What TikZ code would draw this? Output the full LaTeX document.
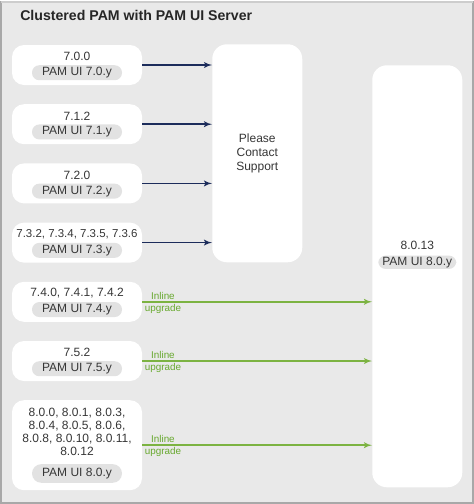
\documentclass[tikz,border=0pt]{standalone}
\usepackage{fontspec}
\setmainfont{Liberation Sans}
\usetikzlibrary{positioning, arrows}
\definecolor{panelgray}{HTML}{E9E9E9}
\definecolor{framedark}{HTML}{A8A8A8}
\definecolor{framelight}{HTML}{CDCDCD}
\definecolor{txtgray}{HTML}{363636}
\definecolor{pillgray}{HTML}{E2E2E2}
\definecolor{navyline}{HTML}{1C2C5B}
\definecolor{upggreen}{HTML}{7CB342}
\definecolor{upgtext}{HTML}{68A92F}
\tikzset{
	node distance=14pt,
	>=latex',
	vbox/.style={fill=white, rounded corners=9pt, minimum width=97.5pt, minimum height=30pt, inner sep=0pt},
	bigbox/.style={fill=white, rounded corners=11pt, minimum width=67.5pt, inner sep=0pt, text=txtgray, align=center, font=\fontsize{9}{10.3}\selectfont},
	vtxt/.style={text=txtgray, align=center, inner sep=0pt, font=\fontsize{9}{9.75}\selectfont},
	pill/.style={fill=pillgray, rounded corners=5.5pt, minimum width=67.5pt, minimum height=11.25pt, inner sep=0pt, text=txtgray, font=\fontsize{9}{10}\selectfont},
	contact/.style={->, navyline, line width=1.1pt},
	upgrade/.style={->, upggreen, line width=1.1pt},
	upgtxt/.style={text=upgtext, inner sep=1.2pt, font=\fontsize{7.4}{8}\selectfont}}

\begin{document}
\begin{tikzpicture}[x=0.75pt, y=-0.75pt]
	\useasboundingbox (0,0) rectangle (474,504);
	\draw[fill=panelgray, draw=framedark, line width=1.5pt] (1,2) rectangle (472.5,502.5);
	\draw[framelight, line width=1.5pt] (1,2) -- (472.5,2);
	\node[anchor=west, inner sep=0pt, font=\bfseries\fontsize{10.6}{12}\selectfont, text=black!85] (ttl) at (20,15) {Clustered PAM with PAM UI Server};
	
	% old versions
	\node[vbox] (b70) at (77,65) {};
	\node[vbox, below=of b70] (b71) {};
	\node[vbox, below=of b71] (b72) {};
	\node[vbox, below=of b72] (b73) {};
	\node[vbox, below=of b73] (b74) {};
	\node[vbox, below=of b74] (b75) {};
	\node[vbox, below=of b75, minimum height=67.5pt] (b80) {};
	
	\node[vtxt] at ([yshift=-9pt] b70.north) {7.0.0};
	\node[pill] at ([yshift=9.4pt] b70.south) {PAM UI 7.0.y};
	\node[vtxt] at ([yshift=-9pt] b71.north) {7.1.2};
	\node[pill] at ([yshift=9.4pt] b71.south) {PAM UI 7.1.y};
	\node[vtxt] at ([yshift=-9pt] b72.north) {7.2.0};
	\node[pill] at ([yshift=9.4pt] b72.south) {PAM UI 7.2.y};
	\node[vtxt, font=\fontsize{8.6}{9.75}\selectfont] at ([yshift=-9pt] b73.north) {7.3.2, 7.3.4, 7.3.5, 7.3.6};
	\node[pill] at ([yshift=9.4pt] b73.south) {PAM UI 7.3.y};
	\node[vtxt] at ([yshift=-9pt] b74.north) {7.4.0, 7.4.1, 7.4.2};
	\node[pill] at ([yshift=9.4pt] b74.south) {PAM UI 7.4.y};
	\node[vtxt] at ([yshift=-9pt] b75.north) {7.5.2};
	\node[pill] at ([yshift=9.4pt] b75.south) {PAM UI 7.5.y};
	\node[vtxt] at ([yshift=-23.6pt] b80.north) {8.0.0, 8.0.1, 8.0.3,\\8.0.4, 8.0.5, 8.0.6,\\8.0.8, 8.0.10, 8.0.11,\\8.0.12};
	\node[pill, minimum height=14pt, rounded corners=7pt] at ([yshift=12.75pt] b80.south) {PAM UI 8.0.y};
	
	% targets
	\node[bigbox, anchor=north west, minimum height=163.5pt] (pcs) at (212,44) {Please\\Contact\\Support};
	\node[bigbox, anchor=north west, minimum height=316.5pt] (srv) at (372,65) {};
	\node[vtxt] at ([yshift=23.25pt] srv.center) {8.0.13};
	\node[pill, minimum width=58.5pt, minimum height=10pt] at ([yshift=10.5pt] srv.center) {PAM UI 8.0.y};
	
	\draw[contact] (b70) -- (b70 -| pcs.west);
	\draw[contact] (b71) -- (b71 -| pcs.west);
	\draw[contact] (b72) -- (b72 -| pcs.west);
	\draw[contact] (b73) -- (b73 -| pcs.west);
	\draw[upgrade] (b74) -- node[upgtxt, pos=0.09, above] {Inline} node[upgtxt, pos=0.09, below] {upgrade} (b74 -| srv.west);
	\draw[upgrade] (b75) -- node[upgtxt, pos=0.09, above] {Inline} node[upgtxt, pos=0.09, below] {upgrade} (b75 -| srv.west);
	\draw[upgrade] (b80) -- node[upgtxt, pos=0.09, above] {Inline} node[upgtxt, pos=0.09, below] {upgrade} (b80 -| srv.west);
\end{tikzpicture}
\end{document}
